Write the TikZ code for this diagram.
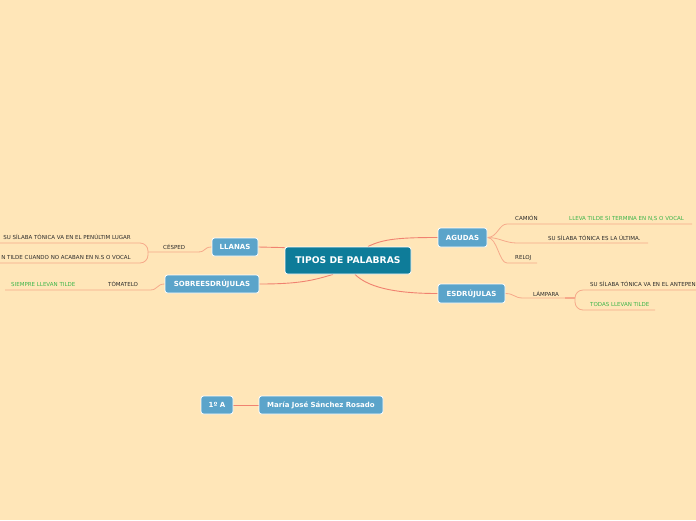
\documentclass[tikz,border=0pt]{standalone}
\usepackage{fontspec}
\setmainfont{DejaVu Sans}
\usetikzlibrary{positioning, backgrounds}
\definecolor{fondo}{HTML}{FFE6B8}
\definecolor{central}{HTML}{0E7C99}
\definecolor{rama}{HTML}{5BA4CA}
\definecolor{linea}{HTML}{F08270}
\definecolor{sublinea}{HTML}{F6A98A}
\definecolor{verde}{HTML}{3CB54A}
\definecolor{texto}{HTML}{2B2B2B}

\begin{document}
\begin{tikzpicture}[x=1pt, y=-1pt,
    topic/.style={draw=white, line width=0.8pt, fill=rama, rounded corners=2.5pt, text=white,
        font=\bfseries\fontsize{7}{8}\selectfont, inner sep=0pt, minimum height=18pt},
    sub/.style={inner sep=0pt, anchor=base west, text=texto, font=\fontsize{5.5}{6.5}\selectfont},
    conn/.style={draw=linea, line width=0.9pt},
    subconn/.style={draw=sublinea, line width=0.8pt}]
    \useasboundingbox (0,0) rectangle (696,520);
    \node (Tipos) [topic, fill=central, minimum width=126pt, minimum height=27pt,
        font=\bfseries\fontsize{9.2}{11}\selectfont] at (348,260.5) {TIPOS DE PALABRAS};
    \node (Agudas) [topic, minimum width=49pt, minimum height=19pt] at (462.5,237.5) {AGUDAS};
    \node (Esdrujulas) [topic, minimum width=67pt, minimum height=19pt] at (471.5,293.5) {ESDRÚJULAS};
    \node (Llanas) [topic, minimum width=46pt] at (235,247) {LLANAS};
    \node (Sobre) [topic, minimum width=94pt] at (212,284) {SOBREESDRÚJULAS};
    \node (Curso) [topic, minimum width=32pt] at (217,405) {1º A};
    \node (Autora) [topic, minimum width=124pt] at (321,405) {María José Sánchez Rosado};
    % Agudas
    \node (Camion) [sub] at (515,220.5) {CAMIÓN};
    \node (SiTermina) [sub, text=verde] at (569,220.5) {LLEVA TILDE SI TERMINA EN N,S O VOCAL};
    \node (Ultima) [sub] at (548,240) {SU SÍLABA TÓNICA ES LA ÚLTIMA.};
    \node (Reloj) [sub] at (515,259.5) {RELOJ};
    % Esdrujulas
    \node (Lampara) [sub] at (533,296) {LÁMPARA};
    \node (Antepen) [sub] at (590,286.5) {SU SÍLABA TÓNICA VA EN EL ANTEPEN};
    \node (Todas) [sub, text=verde] at (590,306.5) {TODAS LLEVAN TILDE};
    % Llanas y sobreesdrujulas
    \node (Cesped) [sub] at (163,249) {CÉSPED};
    \node (Penultim) [sub, anchor=base east] at (131,239.5) {SU SÍLABA TÓNICA VA EN EL PENÚLTIM LUGAR};
    \node (NoAcaban) [sub, anchor=base east] at (131,259.5) {N TILDE CUANDO NO ACABAN EN N.S O VOCAL};
    \node (Tomatelo) [sub] at (108,286.5) {TÓMATELO};
    \node (Siempre) [sub, text=verde] at (11,286.5) {SIEMPRE LLEVAN TILDE};
    % Ends of the underlines
    \coordinate (CamionIni) at (507,224);
    \coordinate (CamionFin) at (692,224);
    \coordinate (UltimaIni) at (517,243);
    \coordinate (UltimaFin) at (648,243);
    \coordinate (RelojIni) at (507,263);
    \coordinate (RelojFin) at (537,263);
    \coordinate (LamparaIni) at (523,298);
    \coordinate (LamparaFin) at (575,298);
    \coordinate (AntepenFin) at (696,290);
    \coordinate (TodasFin) at (655,310);
    \coordinate (CespedIni) at (198,252);
    \coordinate (CespedFin) at (148,252);
    \coordinate (PenultimFin) at (0,243);
    \coordinate (NoAcabanFin) at (0,263);
    \coordinate (TomateloIni) at (150,290);
    \coordinate (SiempreFin) at (5,290);
    \begin{scope}[on background layer]
        \fill [fondo] (0,0) rectangle (696,520);
        \draw [conn] ([xshift=20pt]Tipos.north) .. controls +(15,-8) and +(-35,0) .. (Agudas.west);
        \draw [conn] ([xshift=7pt]Tipos.south) .. controls +(15,15) and +(-35,0) .. (Esdrujulas.west);
        \draw [conn] (Llanas.east) -- ([yshift=-1pt]Tipos.north west);
        \draw [conn] (Sobre.east) .. controls +(40,0) and +(-20,6) .. ([xshift=-15pt]Tipos.south);
        \draw [conn] (Curso.east) -- (Autora.west);
        % Sub branches
        \draw [subconn] (Agudas.east) .. controls +(10,0) and +(-8,0) .. (CamionIni) -- (CamionFin);
        \draw [subconn] (Agudas.east) .. controls +(12,0) and +(-12,0) .. (UltimaIni) -- (UltimaFin);
        \draw [subconn] (Agudas.east) .. controls +(10,0) and +(-8,0) .. (RelojIni) -- (RelojFin);
        \draw [subconn] (Esdrujulas.east) .. controls +(9,0) and +(-9,0) .. (LamparaIni) -- (LamparaFin);
        \draw [subconn, line width=1.6pt] ([xshift=-10pt]LamparaFin) -- (LamparaFin);
        \draw [subconn, rounded corners=8pt] (LamparaFin) |- (AntepenFin);
        \draw [subconn, rounded corners=8pt] (LamparaFin) |- (TodasFin);
        \draw [subconn] (Llanas.west) .. controls +(-8,0) and +(8,0) .. (CespedIni) -- (CespedFin);
        \draw [subconn, rounded corners=8pt] (CespedFin) |- (PenultimFin);
        \draw [subconn, rounded corners=8pt] (CespedFin) |- (NoAcabanFin);
        \draw [subconn] (Sobre.west) .. controls +(-8,0) and +(8,0) .. (TomateloIni) -- (SiempreFin);
    \end{scope}
\end{tikzpicture}
\end{document}
